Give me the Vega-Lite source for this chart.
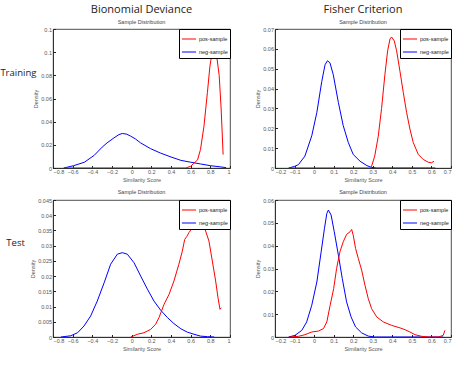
{
  "$schema": "https://vega.github.io/schema/vega-lite/v6.json",
  "padding": {"left": 0, "top": 3, "right": 0, "bottom": 0},
  "background": "white",
  "spacing": 6,
  "config": {
    "view": {"stroke": "#222", "strokeWidth": 0.8},
    "axis": {"grid": false, "labelFontSize": 5.5, "labelColor": "#555", "titleFontSize": 5.5, "titleColor": "#555", "titleFontWeight": "normal", "domainColor": "#222", "domainWidth": 0.8, "tickColor": "#222", "tickSize": -2.5, "labelFont": "Liberation Sans", "titleFont": "Liberation Sans", "labelPadding": 4, "titlePadding": 2},
    "legend": {"orient": "top-right", "offset": 0, "padding": 2, "strokeColor": "#000", "fillColor": "#fff", "labelFontSize": 5.5, "labelFont": "Liberation Sans", "labelColor": "#222", "symbolType": "stroke", "symbolSize": 200, "symbolStrokeWidth": 1, "rowPadding": 1, "labelOffset": 2},
    "title": {"font": "Open Sans", "fontWeight": "normal", "color": "#222"}
  },
  "datasets": {
    "p1": [
      {"s": "neg-sample", "x": -0.69, "y": 0}, {"s": "neg-sample", "x": -0.59, "y": 0.002}, {"s": "neg-sample", "x": -0.48, "y": 0.005}, {"s": "neg-sample", "x": -0.38, "y": 0.011}, {"s": "neg-sample", "x": -0.3, "y": 0.018}, {"s": "neg-sample", "x": -0.25, "y": 0.0217}, {"s": "neg-sample", "x": -0.18, "y": 0.026}, {"s": "neg-sample", "x": -0.13, "y": 0.0288}, {"s": "neg-sample", "x": -0.095, "y": 0.0298}, {"s": "neg-sample", "x": -0.05, "y": 0.0292}, {"s": "neg-sample", "x": -0.01, "y": 0.0275}, {"s": "neg-sample", "x": 0.04, "y": 0.025}, {"s": "neg-sample", "x": 0.09, "y": 0.0217}, {"s": "neg-sample", "x": 0.19, "y": 0.0168}, {"s": "neg-sample", "x": 0.29, "y": 0.013}, {"s": "neg-sample", "x": 0.4, "y": 0.0095}, {"s": "neg-sample", "x": 0.5, "y": 0.0066}, {"s": "neg-sample", "x": 0.6, "y": 0.005}, {"s": "neg-sample", "x": 0.7, "y": 0.0035}, {"s": "neg-sample", "x": 0.8, "y": 0.002}, {"s": "neg-sample", "x": 0.9, "y": 0.001}, {"s": "neg-sample", "x": 0.96, "y": 0.0003},
      {"s": "pos-sample", "x": -0.69, "y": 0}, {"s": "pos-sample", "x": 0.55, "y": 0}, {"s": "pos-sample", "x": 0.6, "y": 0.0015}, {"s": "pos-sample", "x": 0.67, "y": 0.007}, {"s": "pos-sample", "x": 0.7, "y": 0.016}, {"s": "pos-sample", "x": 0.735, "y": 0.036}, {"s": "pos-sample", "x": 0.77, "y": 0.065}, {"s": "pos-sample", "x": 0.796, "y": 0.088}, {"s": "pos-sample", "x": 0.82, "y": 0.101}, {"s": "pos-sample", "x": 0.837, "y": 0.1027}, {"s": "pos-sample", "x": 0.85, "y": 0.101}, {"s": "pos-sample", "x": 0.864, "y": 0.097}, {"s": "pos-sample", "x": 0.89, "y": 0.08}, {"s": "pos-sample", "x": 0.91, "y": 0.051}, {"s": "pos-sample", "x": 0.93, "y": 0.0116}
    ],
    "p2": [
      {"s": "neg-sample", "x": -0.13, "y": 0}, {"s": "neg-sample", "x": -0.1, "y": 0.0008}, {"s": "neg-sample", "x": -0.08, "y": 0.0017}, {"s": "neg-sample", "x": -0.047, "y": 0.006}, {"s": "neg-sample", "x": -0.012, "y": 0.0162}, {"s": "neg-sample", "x": 0.014, "y": 0.028}, {"s": "neg-sample", "x": 0.039, "y": 0.0435}, {"s": "neg-sample", "x": 0.056, "y": 0.052}, {"s": "neg-sample", "x": 0.068, "y": 0.054}, {"s": "neg-sample", "x": 0.081, "y": 0.053}, {"s": "neg-sample", "x": 0.098, "y": 0.047}, {"s": "neg-sample", "x": 0.124, "y": 0.033}, {"s": "neg-sample", "x": 0.149, "y": 0.0213}, {"s": "neg-sample", "x": 0.175, "y": 0.0128}, {"s": "neg-sample", "x": 0.2, "y": 0.0068}, {"s": "neg-sample", "x": 0.235, "y": 0.0034}, {"s": "neg-sample", "x": 0.27, "y": 0.0012}, {"s": "neg-sample", "x": 0.294, "y": 0.0003}, {"s": "neg-sample", "x": 0.32, "y": 0}, {"s": "neg-sample", "x": 0.62, "y": 0},
      {"s": "pos-sample", "x": -0.13, "y": 0}, {"s": "pos-sample", "x": 0.29, "y": 0}, {"s": "pos-sample", "x": 0.294, "y": 0.0009}, {"s": "pos-sample", "x": 0.31, "y": 0.006}, {"s": "pos-sample", "x": 0.328, "y": 0.016}, {"s": "pos-sample", "x": 0.345, "y": 0.03}, {"s": "pos-sample", "x": 0.362, "y": 0.047}, {"s": "pos-sample", "x": 0.376, "y": 0.059}, {"s": "pos-sample", "x": 0.388, "y": 0.065}, {"s": "pos-sample", "x": 0.396, "y": 0.066}, {"s": "pos-sample", "x": 0.41, "y": 0.064}, {"s": "pos-sample", "x": 0.422, "y": 0.059}, {"s": "pos-sample", "x": 0.439, "y": 0.0487}, {"s": "pos-sample", "x": 0.456, "y": 0.038}, {"s": "pos-sample", "x": 0.473, "y": 0.028}, {"s": "pos-sample", "x": 0.49, "y": 0.0196}, {"s": "pos-sample", "x": 0.507, "y": 0.0128}, {"s": "pos-sample", "x": 0.533, "y": 0.0068}, {"s": "pos-sample", "x": 0.558, "y": 0.0043}, {"s": "pos-sample", "x": 0.584, "y": 0.0029}, {"s": "pos-sample", "x": 0.6, "y": 0.0026}, {"s": "pos-sample", "x": 0.613, "y": 0.0034}
    ],
    "p3": [
      {"s": "neg-sample", "x": -0.72, "y": 0}, {"s": "neg-sample", "x": -0.62, "y": 0.0004}, {"s": "neg-sample", "x": -0.55, "y": 0.0014}, {"s": "neg-sample", "x": -0.485, "y": 0.0036}, {"s": "neg-sample", "x": -0.417, "y": 0.0069}, {"s": "neg-sample", "x": -0.35, "y": 0.0118}, {"s": "neg-sample", "x": -0.28, "y": 0.0178}, {"s": "neg-sample", "x": -0.214, "y": 0.0239}, {"s": "neg-sample", "x": -0.146, "y": 0.0272}, {"s": "neg-sample", "x": -0.095, "y": 0.0277}, {"s": "neg-sample", "x": -0.044, "y": 0.0272}, {"s": "neg-sample", "x": 0.024, "y": 0.0244}, {"s": "neg-sample", "x": 0.092, "y": 0.02}, {"s": "neg-sample", "x": 0.16, "y": 0.0157}, {"s": "neg-sample", "x": 0.227, "y": 0.0118}, {"s": "neg-sample", "x": 0.295, "y": 0.0088}, {"s": "neg-sample", "x": 0.363, "y": 0.0064}, {"s": "neg-sample", "x": 0.43, "y": 0.0044}, {"s": "neg-sample", "x": 0.5, "y": 0.0027}, {"s": "neg-sample", "x": 0.566, "y": 0.0016}, {"s": "neg-sample", "x": 0.634, "y": 0.0009}, {"s": "neg-sample", "x": 0.7, "y": 0.0003}, {"s": "neg-sample", "x": 0.77, "y": 0.0001}, {"s": "neg-sample", "x": 0.84, "y": 0},
      {"s": "pos-sample", "x": -0.01, "y": 0}, {"s": "pos-sample", "x": 0.058, "y": 0.0009}, {"s": "pos-sample", "x": 0.125, "y": 0.0014}, {"s": "pos-sample", "x": 0.193, "y": 0.0025}, {"s": "pos-sample", "x": 0.244, "y": 0.0042}, {"s": "pos-sample", "x": 0.278, "y": 0.0064}, {"s": "pos-sample", "x": 0.329, "y": 0.0107}, {"s": "pos-sample", "x": 0.38, "y": 0.014}, {"s": "pos-sample", "x": 0.43, "y": 0.0184}, {"s": "pos-sample", "x": 0.48, "y": 0.0239}, {"s": "pos-sample", "x": 0.515, "y": 0.0282}, {"s": "pos-sample", "x": 0.539, "y": 0.032}, {"s": "pos-sample", "x": 0.56, "y": 0.033}, {"s": "pos-sample", "x": 0.583, "y": 0.0343}, {"s": "pos-sample", "x": 0.617, "y": 0.0359}, {"s": "pos-sample", "x": 0.651, "y": 0.0376}, {"s": "pos-sample", "x": 0.668, "y": 0.039}, {"s": "pos-sample", "x": 0.68, "y": 0.0385}, {"s": "pos-sample", "x": 0.695, "y": 0.039}, {"s": "pos-sample", "x": 0.718, "y": 0.0376}, {"s": "pos-sample", "x": 0.752, "y": 0.0348}, {"s": "pos-sample", "x": 0.786, "y": 0.0315}, {"s": "pos-sample", "x": 0.82, "y": 0.025}, {"s": "pos-sample", "x": 0.854, "y": 0.0184}, {"s": "pos-sample", "x": 0.878, "y": 0.0129}, {"s": "pos-sample", "x": 0.898, "y": 0.0091}, {"s": "pos-sample", "x": 0.911, "y": 0.0096}
    ],
    "p4": [
      {"s": "neg-sample", "x": -0.13, "y": 0}, {"s": "neg-sample", "x": -0.098, "y": 0.0007}, {"s": "neg-sample", "x": -0.063, "y": 0.0029}, {"s": "neg-sample", "x": -0.038, "y": 0.0066}, {"s": "neg-sample", "x": -0.012, "y": 0.0139}, {"s": "neg-sample", "x": 0.014, "y": 0.0241}, {"s": "neg-sample", "x": 0.036, "y": 0.0373}, {"s": "neg-sample", "x": 0.053, "y": 0.0476}, {"s": "neg-sample", "x": 0.065, "y": 0.0541}, {"s": "neg-sample", "x": 0.073, "y": 0.0556}, {"s": "neg-sample", "x": 0.087, "y": 0.0534}, {"s": "neg-sample", "x": 0.103, "y": 0.0461}, {"s": "neg-sample", "x": 0.124, "y": 0.0359}, {"s": "neg-sample", "x": 0.144, "y": 0.0256}, {"s": "neg-sample", "x": 0.166, "y": 0.0154}, {"s": "neg-sample", "x": 0.189, "y": 0.0088}, {"s": "neg-sample", "x": 0.212, "y": 0.0044}, {"s": "neg-sample", "x": 0.243, "y": 0.0018}, {"s": "neg-sample", "x": 0.277, "y": 0.0004}, {"s": "neg-sample", "x": 0.31, "y": 0}, {"s": "neg-sample", "x": 0.66, "y": 0},
      {"s": "pos-sample", "x": -0.13, "y": 0}, {"s": "pos-sample", "x": -0.08, "y": 0.0003}, {"s": "pos-sample", "x": -0.047, "y": 0.001}, {"s": "pos-sample", "x": -0.012, "y": 0.0022}, {"s": "pos-sample", "x": 0.022, "y": 0.0026}, {"s": "pos-sample", "x": 0.048, "y": 0.0037}, {"s": "pos-sample", "x": 0.065, "y": 0.0066}, {"s": "pos-sample", "x": 0.082, "y": 0.0139}, {"s": "pos-sample", "x": 0.1, "y": 0.0212}, {"s": "pos-sample", "x": 0.115, "y": 0.03}, {"s": "pos-sample", "x": 0.132, "y": 0.0373}, {"s": "pos-sample", "x": 0.149, "y": 0.0417}, {"s": "pos-sample", "x": 0.166, "y": 0.0449}, {"s": "pos-sample", "x": 0.184, "y": 0.0461}, {"s": "pos-sample", "x": 0.192, "y": 0.0471}, {"s": "pos-sample", "x": 0.2, "y": 0.0446}, {"s": "pos-sample", "x": 0.212, "y": 0.0388}, {"s": "pos-sample", "x": 0.226, "y": 0.0344}, {"s": "pos-sample", "x": 0.243, "y": 0.0293}, {"s": "pos-sample", "x": 0.26, "y": 0.0227}, {"s": "pos-sample", "x": 0.277, "y": 0.0168}, {"s": "pos-sample", "x": 0.294, "y": 0.0124}, {"s": "pos-sample", "x": 0.32, "y": 0.0088}, {"s": "pos-sample", "x": 0.354, "y": 0.0066}, {"s": "pos-sample", "x": 0.396, "y": 0.0051}, {"s": "pos-sample", "x": 0.439, "y": 0.004}, {"s": "pos-sample", "x": 0.465, "y": 0.0032}, {"s": "pos-sample", "x": 0.49, "y": 0.0022}, {"s": "pos-sample", "x": 0.516, "y": 0.001}, {"s": "pos-sample", "x": 0.55, "y": 0.0003}, {"s": "pos-sample", "x": 0.584, "y": 0}, {"s": "pos-sample", "x": 0.635, "y": 0}, {"s": "pos-sample", "x": 0.66, "y": 0.0007}, {"s": "pos-sample", "x": 0.669, "y": 0.0029}
    ]
  },
  "resolve": {"scale": {"color": "independent"}, "legend": {"color": "independent"}},
  "vconcat": [
    {
      "title": {"text": "Training", "orient": "left", "angle": 0, "anchor": "middle", "align": "right", "baseline": "middle", "fontSize": 9.5, "offset": 1, "dy": -20, "dx": 40},
      "spacing": 24,
      "resolve": {"scale": {"color": "independent"}, "legend": {"color": "independent"}},
      "hconcat": [
        {
          "width": 177, "height": 139,
          "title": {"text": "Bionomial Deviance", "subtitle": "Sample Distribution", "anchor": "middle", "frame": "group", "fontSize": 11, "subtitleFontSize": 5.5, "subtitleFont": "Liberation Sans", "subtitleColor": "#444", "subtitlePadding": 5, "offset": 2},
          "data": {"name": "p1"},
          "mark": {"type": "line", "strokeWidth": 1, "clip": true},
          "encoding": {
            "x": {"field": "x", "type": "quantitative", "scale": {"domain": [-0.8, 1], "nice": false, "zero": false}, "axis": {"values": [-0.8, -0.6, -0.4, -0.2, 0, 0.2, 0.4, 0.6, 0.8, 1], "format": "~g", "title": "Similarity Score"}},
            "y": {"field": "y", "type": "quantitative", "scale": {"domain": [0, 0.12], "nice": false}, "axis": {"values": [0, 0.02, 0.04, 0.06, 0.08, 0.1, 0.12], "format": "~g", "title": "Density"}},
            "color": {"field": "s", "type": "nominal", "scale": {"domain": ["pos-sample", "neg-sample"], "range": ["#ff0000", "#0000ff"]}, "legend": {"title": null}}
          }
        },
        {
          "width": 176, "height": 139,
          "title": {"text": "Fisher Criterion", "subtitle": "Sample Distribution", "anchor": "middle", "frame": "group", "fontSize": 11, "subtitleFontSize": 5.5, "subtitleFont": "Liberation Sans", "subtitleColor": "#444", "subtitlePadding": 5, "offset": 2},
          "data": {"name": "p2"},
          "mark": {"type": "line", "strokeWidth": 1, "clip": true},
          "encoding": {
            "x": {"field": "x", "type": "quantitative", "scale": {"domain": [-0.2, 0.7], "nice": false, "zero": false}, "axis": {"values": [-0.2, -0.1, 0, 0.1, 0.2, 0.3, 0.4, 0.5, 0.6, 0.7], "format": "~g", "title": "Similarity Score"}},
            "y": {"field": "y", "type": "quantitative", "scale": {"domain": [0, 0.07], "nice": false}, "axis": {"values": [0, 0.01, 0.02, 0.03, 0.04, 0.05, 0.06, 0.07], "format": "~g", "title": "Density"}},
            "color": {"field": "s", "type": "nominal", "scale": {"domain": ["pos-sample", "neg-sample"], "range": ["#ff0000", "#0000ff"]}, "legend": {"title": null}}
          }
        }
      ]
    },
    {
      "title": {"text": "Test", "orient": "left", "angle": 0, "anchor": "middle", "align": "right", "baseline": "middle", "fontSize": 9.5, "offset": 1, "dy": -28, "dx": 14},
      "spacing": 24,
      "resolve": {"scale": {"color": "independent"}, "legend": {"color": "independent"}},
      "hconcat": [
        {
          "width": 177, "height": 137,
          "title": {"text": "Sample Distribution", "anchor": "middle", "frame": "group", "fontSize": 5.5, "font": "Liberation Sans", "color": "#444", "offset": 3},
          "data": {"name": "p3"},
          "mark": {"type": "line", "strokeWidth": 1, "clip": true},
          "encoding": {
            "x": {"field": "x", "type": "quantitative", "scale": {"domain": [-0.8, 1], "nice": false, "zero": false}, "axis": {"values": [-0.8, -0.6, -0.4, -0.2, 0, 0.2, 0.4, 0.6, 0.8, 1], "format": "~g", "title": "Similarity Score"}},
            "y": {"field": "y", "type": "quantitative", "scale": {"domain": [0, 0.045], "nice": false}, "axis": {"values": [0, 0.005, 0.01, 0.015, 0.02, 0.025, 0.03, 0.035, 0.04, 0.045], "format": "~g", "title": "Density"}},
            "color": {"field": "s", "type": "nominal", "scale": {"domain": ["pos-sample", "neg-sample"], "range": ["#ff0000", "#0000ff"]}, "legend": {"title": null}}
          }
        },
        {
          "width": 176, "height": 137,
          "title": {"text": "Sample Distribution", "anchor": "middle", "frame": "group", "fontSize": 5.5, "font": "Liberation Sans", "color": "#444", "offset": 3},
          "data": {"name": "p4"},
          "mark": {"type": "line", "strokeWidth": 1, "clip": true},
          "encoding": {
            "x": {"field": "x", "type": "quantitative", "scale": {"domain": [-0.2, 0.7], "nice": false, "zero": false}, "axis": {"values": [-0.2, -0.1, 0, 0.1, 0.2, 0.3, 0.4, 0.5, 0.6, 0.7], "format": "~g", "title": "Similarity Score"}},
            "y": {"field": "y", "type": "quantitative", "scale": {"domain": [0, 0.06], "nice": false}, "axis": {"values": [0, 0.01, 0.02, 0.03, 0.04, 0.05, 0.06], "format": "~g", "title": "Density"}},
            "color": {"field": "s", "type": "nominal", "scale": {"domain": ["pos-sample", "neg-sample"], "range": ["#ff0000", "#0000ff"]}, "legend": {"title": null}}
          }
        }
      ]
    }
  ]
}
